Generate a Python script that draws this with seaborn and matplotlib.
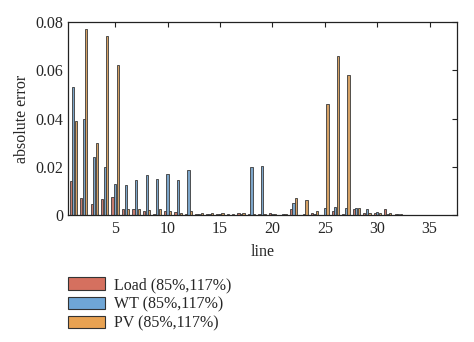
import numpy as np
import pandas as pd
import matplotlib
matplotlib.use("Agg")
import matplotlib.pyplot as plt
import seaborn as sns

lines = list(range(1, 38))
load = [0.014, 0.007, 0.0045, 0.0065, 0.0075, 0.0025, 0.0025, 0.0015, 0.0003, 0.0015,
        0.0012, 0.0005, 0.0005, 0.0003, 0.0005, 0.0003, 0.0008, 0.0003, 0.0003, 0.0008,
        0.0002, 0.0025, 0.0002, 0.001, 0.0002, 0.0015, 0.0005, 0.0025, 0.001, 0.0008,
        0.0025, 0.0003, 0.0, 0.0, 0.0, 0.0, 0.0]
wt = [0.053, 0.040, 0.024, 0.020, 0.013, 0.0125, 0.0145, 0.0165, 0.015, 0.017,
      0.0145, 0.0185, 0.0003, 0.0005, 0.0003, 0.0002, 0.0005, 0.020, 0.0205, 0.0003,
      0.0005, 0.005, 0.0003, 0.0003, 0.003, 0.0035, 0.003, 0.0028, 0.0025, 0.0012,
      0.0005, 0.0003, 0.0, 0.0, 0.0, 0.0, 0.0]
pv = [0.039, 0.077, 0.030, 0.074, 0.062, 0.0025, 0.0025, 0.002, 0.0025, 0.0015,
      0.001, 0.0015, 0.0008, 0.001, 0.001, 0.0005, 0.0008, 0.0003, 0.0003, 0.0005,
      0.0004, 0.007, 0.0062, 0.0015, 0.046, 0.066, 0.058, 0.0028, 0.001, 0.0008,
      0.0008, 0.0003, 0.0, 0.0, 0.0, 0.0, 0.0]
series_names = ["Load (85%,117%)", "WT (85%,117%)", "PV (85%,117%)"]
colors = ["#d5705f", "#6fa6d6", "#e8a252"]
xticks = [5, 10, 15, 20, 25, 30, 35]
yticks = [0, 0.02, 0.04, 0.06, 0.08]
ytick_labels = ["0", "0.02", "0.04", "0.06", "0.08"]

df = pd.DataFrame({
    "line": lines * 3,
    "err": load + wt + pv,
    "series": [series_names[0]] * 37 + [series_names[1]] * 37 + [series_names[2]] * 37,
})

sns.set_style("white")
plt.rcParams["font.family"] = ["Liberation Serif", "DejaVu Serif"]

fig = plt.figure(figsize=(4.74, 3.42), dpi=100)
ax = fig.add_axes([0.1435, 0.371, 0.8205, 0.565])
sns.barplot(data=df, x="line", y="err", hue="series", hue_order=series_names,
            palette=colors, order=lines, width=0.74, gap=0.12,
            edgecolor="#3a3a3a", linewidth=0.6, ax=ax, legend=False)

ax.set_xlim(-0.5, 36.6)
ax.set_ylim(0, 0.08)
ax.set_xticks([t - 1 for t in xticks])
ax.set_xticklabels([str(t) for t in xticks], fontsize=11.5)
ax.set_yticks(yticks)
ax.set_yticklabels(ytick_labels, fontsize=11.5)
ax.tick_params(direction="in", top=True, right=True, length=3.5, width=0.8, color="#222")
ax.tick_params(axis="x", pad=4)
for s in ax.spines.values():
    s.set_color("#222")
    s.set_linewidth(0.9)
ax.set_xlabel("line", fontsize=11.5, labelpad=5)
ax.set_ylabel("absolute error", fontsize=11.5, labelpad=4)

from matplotlib.patches import Patch
handles = [Patch(facecolor=c, edgecolor="#333", linewidth=0.8) for c in colors]
fig.legend(handles, series_names, loc="upper left", bbox_to_anchor=(0.13, 0.208),
           frameon=False, fontsize=11.5, handlelength=2.3, handleheight=0.85,
           labelspacing=0.2, handletextpad=0.6, borderaxespad=0)

fig.savefig("out.png", dpi=100)
